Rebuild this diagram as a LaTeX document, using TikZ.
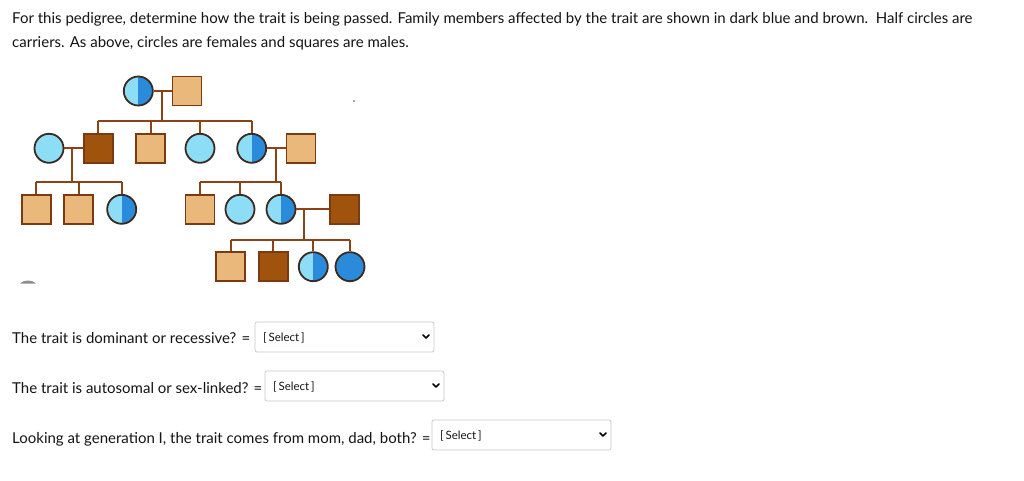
\documentclass[tikz,border=0pt]{standalone}
\usepackage{fontspec}
\setmainfont{Lato}
\definecolor{lblue}{HTML}{8EDDF6}
\definecolor{dblue}{HTML}{2A8BDB}
\definecolor{tan}{HTML}{E9B87A}
\definecolor{dbrown}{HTML}{A0530C}
\definecolor{sqedge}{HTML}{7A3A12}
\definecolor{cedge}{HTML}{3A2A22}
\definecolor{linebrown}{HTML}{8A4217}
\definecolor{boxgrey}{HTML}{C9C9C9}
\definecolor{txt}{HTML}{141414}
\tikzset{
  person/.style={inner sep=0pt, line width=1.8pt},
  male/.style={person, rectangle, minimum size=29pt, draw=sqedge},
  female/.style={person, circle, minimum size=29pt, draw=cedge},
  msq/.style={male, fill=tan},
  maff/.style={male, fill=dbrown},
  fnorm/.style={female, fill=lblue},
  faff/.style={female, fill=dblue},
  fcar/.style={female, fill=lblue, path picture={\fill[dblue] (path picture bounding box.south) rectangle (path picture bounding box.north east);}},
  rel/.style={draw=linebrown, line width=2.1pt},
  qtext/.style={anchor=base west, inner sep=0pt, font=\fontsize{15}{18}\selectfont, text=txt},
  selbox/.style={draw=boxgrey, line width=0.8pt, rounded corners=2pt, fill=white},
  seltext/.style={anchor=base west, inner sep=0pt, font=\fontsize{11.5}{13}\selectfont, text=txt},
}
\begin{document}
\begin{tikzpicture}[x=1pt,y=-1pt]
\useasboundingbox[fill=white] (0,0) rectangle (1024,481);

% header text
\node[qtext] (h1) at (12,24) {For this pedigree, determine how the trait is being passed. Family members affected by the trait are shown in dark blue and brown.\ \ Half circles are};
\node[qtext] (h2) at (12,47.7) {carriers. As above, circles are females and squares are males.};

% coordinates for connectors
\coordinate (m1) at (162.3,91);
\coordinate (m1d) at (162.3,121);
\coordinate (sib1l) at (98.3,121);
\coordinate (sib1r) at (251.7,121);
\coordinate (m2) at (71.7,148.3);
\coordinate (m2d) at (71.7,181.7);
\coordinate (sib2l) at (36.2,181.7);
\coordinate (sib2r) at (121.7,181.7);
\coordinate (m3) at (276,148.3);
\coordinate (m3d) at (276,182);
\coordinate (sib3l) at (200,182);
\coordinate (sib3r) at (281,182);
\coordinate (m4) at (304,209.3);
\coordinate (m4d) at (304,240);
\coordinate (sib4l) at (230.8,240);
\coordinate (sib4r) at (350,240);

% Generation I
\node[fcar] (c1) at (138.3,91) {};
\node[msq] (s1) at (187,91) {};
% Generation II
\node[fnorm] (a) at (49,148.3) {};
\node[maff] (b) at (98.3,148.3) {};
\node[msq] (c) at (150.7,148.3) {};
\node[fnorm] (d) at (200,148.3) {};
\node[fcar] (e) at (251.7,148.3) {};
\node[msq] (f) at (301,148.3) {};
% Generation III
\node[msq] (g) at (36.2,209.3) {};
\node[msq] (h) at (78.7,209.3) {};
\node[fcar] (i) at (121.7,209.3) {};
\node[msq] (j) at (200,209.3) {};
\node[fnorm] (k) at (240,209.3) {};
\node[fcar] (l) at (281,209.3) {};
\node[maff] (m) at (344.7,209.3) {};
% Generation IV
\node[msq] (n) at (230.8,266.7) {};
\node[maff] (o) at (273.3,266.7) {};
\node[fcar] (p) at (313.3,266.7) {};
\node[faff] (q) at (350,266.7) {};

% connectors
\draw[rel] (c1) -- (s1);
\draw[rel] (m1) -- (m1d);
\draw[rel] (sib1l) -- (sib1r);
\draw[rel] (sib1l) -- (b.north);
\draw[rel] (c.north |- sib1l) -- (c.north);
\draw[rel] (d.north |- sib1l) -- (d.north);
\draw[rel] (sib1r) -- (e.north);

\draw[rel] (a) -- (b);
\draw[rel] (m2) -- (m2d);
\draw[rel] (sib2l) -- (sib2r);
\draw[rel] (sib2l) -- (g.north);
\draw[rel] (h.north |- sib2l) -- (h.north);
\draw[rel] (sib2r) -- (i.north);

\draw[rel] (e) -- (f);
\draw[rel] (m3) -- (m3d);
\draw[rel] (sib3l) -- (sib3r);
\draw[rel] (sib3l) -- (j.north);
\draw[rel] (k.north |- sib3l) -- (k.north);
\draw[rel] (sib3r) -- (l.north);

\draw[rel] (l) -- (m);
\draw[rel] (m4) -- (m4d);
\draw[rel] (sib4l) -- (sib4r);
\draw[rel] (sib4l) -- (n.north);
\draw[rel] (o.north |- sib4l) -- (o.north);
\draw[rel] (p.north |- sib4l) -- (p.north);
\draw[rel] (sib4r) -- (q.north);

% questions
\node[qtext] (q1) at (12,343.7) {The trait is dominant or recessive? =};
\node[qtext] (q2) at (12,393.5) {The trait is autosomal or sex-linked? =};
\node[qtext] (q3) at (12,443) {Looking at generation I, the trait comes from mom, dad, both? =};

\draw[selbox] (255,322) rectangle (434,352);
\node[seltext] (s1t) at (263,341) {[\,Select\,]};
\draw[line width=1.5pt, line cap=round, line join=round] (423,335) -- (426,338) -- (429,335);

\draw[selbox] (265,371) rectangle (444,401);
\node[seltext] (s2t) at (273,390) {[\,Select\,]};
\draw[line width=1.5pt, line cap=round, line join=round] (433,384) -- (436,387) -- (439,384);

\draw[selbox] (432,420) rectangle (611,450);
\node[seltext] (s3t) at (440,439) {[\,Select\,]};
\draw[line width=1.5pt, line cap=round, line join=round] (600,433) -- (603,436) -- (606,433);

% small specks
\fill[black!70] (354,101) circle (0.8pt);
\fill[black!45] (20,283.5) .. controls (24,279.5) and (32,279.5) .. (36,283.5) -- cycle;
\end{tikzpicture}
\end{document}
